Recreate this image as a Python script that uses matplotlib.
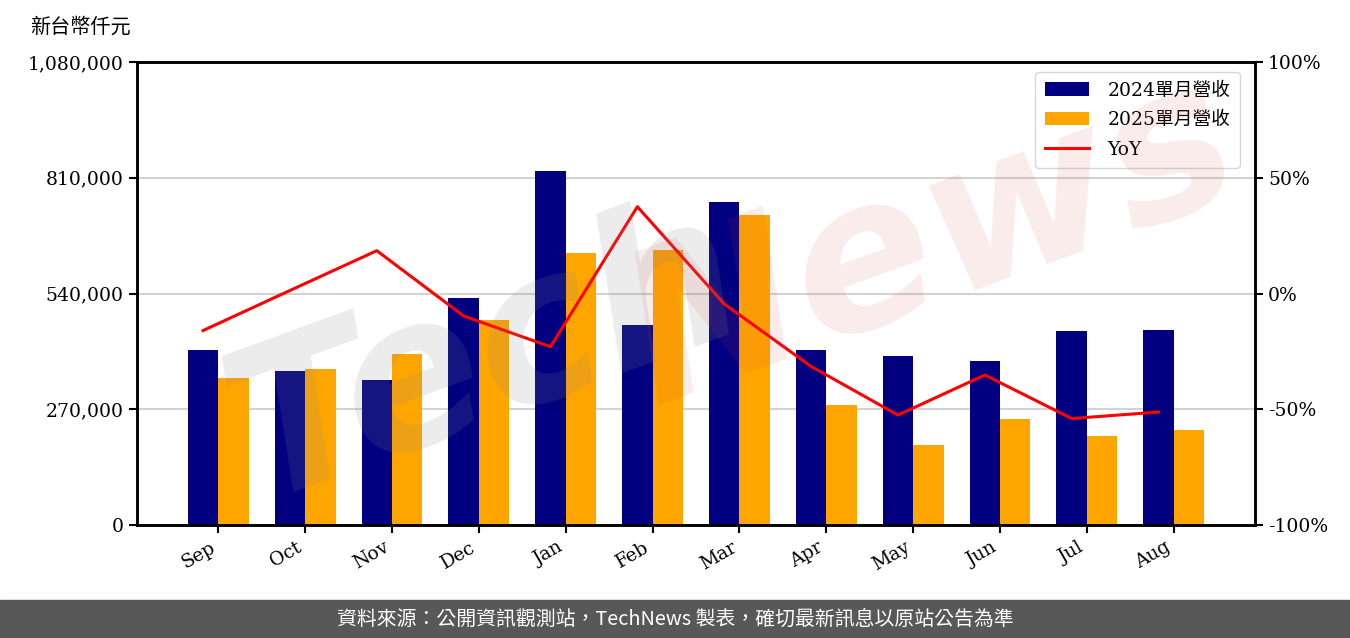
import matplotlib
matplotlib.use("Agg")
import matplotlib.pyplot as plt
import numpy as np

plt.rcParams['font.family'] = ['DejaVu Serif', 'Noto Sans CJK TC']

# data
months = ['Sep', 'Oct', 'Nov', 'Dec', 'Jan', 'Feb', 'Mar', 'Apr', 'May', 'Jun', 'Jul', 'Aug']
rev_2024 = [408200, 359200, 338200, 529500, 825700, 466500, 753400, 408200, 394200, 382500, 452500, 454900]
rev_2025 = [342900, 363900, 398900, 478200, 634500, 641500, 723100, 279900, 186600, 247300, 207600, 221600]
yoy = [-16.0, 1.3, 18.5, -9.7, -23.0, 37.5, -4.5, -31.5, -52.5, -35.2, -54.0, -51.2]

NAVY = '#000080'
ORANGE = '#FFA500'
w = 0.35

fig = plt.figure(figsize=(13.5, 6.38), dpi=100)
ax = fig.add_axes([0.1015, 0.1771, 0.8281, 0.7257])
x = np.arange(len(months))

b1 = ax.bar(x - w/2, rev_2024, w, color=NAVY, label='2024單月營收', zorder=2)
b2 = ax.bar(x + w/2, rev_2025, w, color=ORANGE, label='2025單月營收', zorder=2)
ax.set_ylim(0, 1080000)
ax.set_yticks([0, 270000, 540000, 810000, 1080000])
ax.set_yticklabels(['0', '270,000', '540,000', '810,000', '1,080,000'])
ax.set_xticks(x)
ax.set_xticklabels(months, rotation=30, ha='right')
ax.grid(axis='y', color='#d3d3d3', linewidth=1.5, zorder=0)
ax.set_axisbelow(True)

ax2 = ax.twinx()
l1, = ax2.plot(x - w/2, yoy, color='red', linewidth=2.2, label='YoY', zorder=3)
ax2.set_ylim(-100, 100)
ax2.set_yticks([-100, -50, 0, 50, 100])
ax2.set_yticklabels(['-100%', '-50%', '0%', '50%', '100%'])

for a in (ax, ax2):
    for s in a.spines.values():
        s.set_linewidth(1.8)
    a.tick_params(labelsize=13.5, width=1.5, length=6)

ax.legend(handles=[b1, b2, l1], loc='upper right', fontsize=13.5,
          bbox_to_anchor=(0.9866, 0.978), borderaxespad=0,
          handlelength=2.35, handletextpad=1.0,
          labelspacing=0.62, borderpad=0.5)

fig.text(0.022, 0.957, '新台幣仟元', fontsize=14.5, family=['Noto Sans CJK TC'], va='center')

# watermark
fig.text(0.36, 0.44, 'Tech', fontsize=150, color='#888888', alpha=0.16,
         rotation=20, ha='center', va='center', style='italic', weight='bold',
         family='DejaVu Sans')
fig.text(0.69, 0.62, 'News', fontsize=150, color='#dd4444', alpha=0.1,
         rotation=20, ha='center', va='center', style='italic', weight='bold',
         family='DejaVu Sans')

# footer
fig.patches.append(plt.Rectangle((0, 0), 1, 38/638, transform=fig.transFigure,
                                 color='#585858', zorder=0))
fig.text(0.5, 19/638, '資料來源：公開資訊觀測站，TechNews 製表，確切最新訊息以原站公告為準',
         color='white', fontsize=14.3, ha='center', va='center',
         family=['Noto Sans CJK TC'])

fig.savefig('out.png', dpi=100)
